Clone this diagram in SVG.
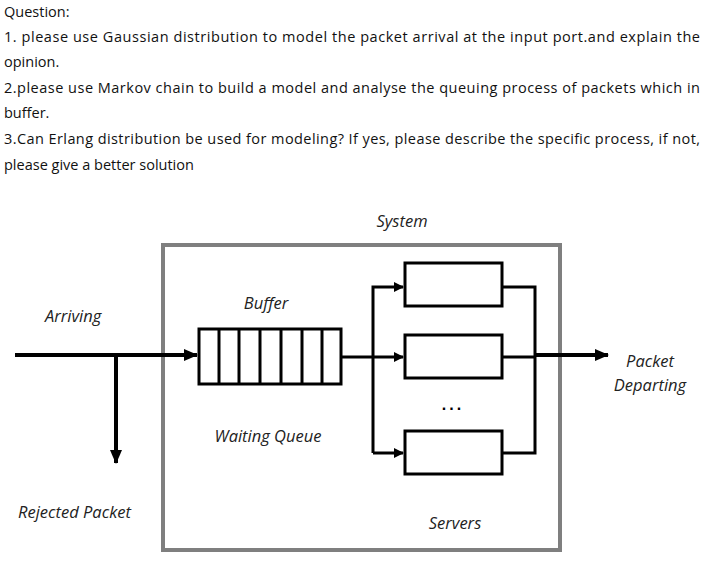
<svg xmlns="http://www.w3.org/2000/svg" width="708" height="564" viewBox="0 0 708 564">
<style>
.q{font-family:"Open Sans","Liberation Sans",sans-serif;font-size:14.5px;fill:#111}
.l{font-family:"Open Sans","Liberation Sans",sans-serif;font-size:16.5px;font-style:italic;fill:#222}
.k{fill:none;stroke:#000;stroke-width:3}
</style>
<defs><marker id="a" markerWidth="10" markerHeight="10" refX="9" refY="5" orient="auto" markerUnits="userSpaceOnUse"><path d="M0,0L10,5L0,10z" fill="#000"/></marker>
<marker id="b" markerWidth="14" markerHeight="12" refX="13" refY="6" orient="auto" markerUnits="userSpaceOnUse"><path d="M0,0L14,6L0,12z" fill="#000"/></marker></defs>
<rect width="708" height="564" fill="#fff"/>
<g id="question">
<text class="q" x="4" y="17">Question:</text>
<text class="q" x="4" y="42" textLength="696" lengthAdjust="spacing">1. please use Gaussian distribution to model the packet arrival at the input port.and explain the</text>
<text class="q" x="4" y="67">opinion.</text>
<text class="q" x="4" y="93" textLength="696" lengthAdjust="spacing">2.please use Markov chain to build a model and analyse the queuing process of packets which in</text>
<text class="q" x="4" y="118">buffer.</text>
<text class="q" x="4" y="144" textLength="696" lengthAdjust="spacing">3.Can Erlang distribution be used for modeling? If yes, please describe the specific process, if not,</text>
<text class="q" x="4" y="170">please give a better solution</text>
</g>
<g id="system"><rect x="163" y="245" width="397" height="305" fill="none" stroke="#7f7f7f" stroke-width="4"/><text class="l" x="402" y="227" text-anchor="middle">System</text></g>
<g id="buffer"><rect x="199" y="329" width="142" height="55" class="k"/>
<path class="k" d="M219,329V384M239,329V384M260,329V384M281,329V384M302,329V384M322,329V384"/>
<text class="l" x="266" y="309" text-anchor="middle">Buffer</text>
<text class="l" x="268" y="442" text-anchor="middle">Waiting Queue</text></g>
<g id="server1"><rect x="405" y="263" width="97" height="43" class="k"/></g>
<g id="server2"><rect x="405" y="335" width="97" height="43" class="k"/></g>
<g id="server3"><rect x="405" y="431" width="97" height="43" class="k"/></g>
<g id="labels">
<text class="l" x="45" y="322">Arriving</text>
<text class="l" x="18" y="518">Rejected Packet</text>
<text class="l" x="455" y="529" text-anchor="middle">Servers</text>
<text class="l" x="650" y="367" text-anchor="middle">Packet</text>
<text class="l" x="650" y="391" text-anchor="middle">Departing</text>
<text x="453" y="410" text-anchor="middle" font-family="Liberation Sans,sans-serif" font-size="16" font-weight="bold" letter-spacing="3">...</text>
</g>
<g id="connectors">
<path d="M15,355H197" stroke="#000" stroke-width="4" fill="none" marker-end="url(#b)"/>
<path d="M116,355V463" stroke="#000" stroke-width="4" fill="none" marker-end="url(#b)"/>
<path class="k" d="M341,357H403" marker-end="url(#a)"/>
<path class="k" d="M373,453V287H403" marker-end="url(#a)"/>
<path class="k" d="M373,453H403" marker-end="url(#a)"/>
<path class="k" d="M502,287H535V453H502"/>
<path class="k" d="M502,357H535"/>
<path d="M535,355H608" stroke="#000" stroke-width="4" fill="none" marker-end="url(#b)"/>
</g>
</svg>
